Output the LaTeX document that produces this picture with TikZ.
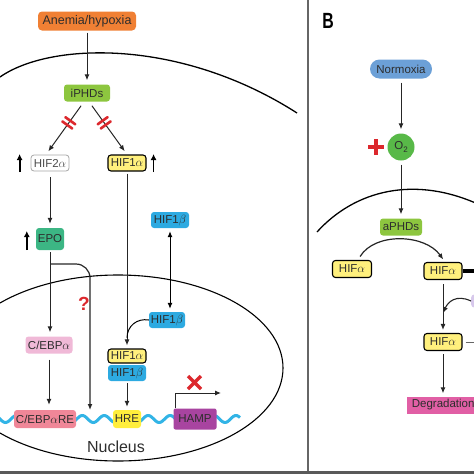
\documentclass[tikz,border=0pt]{standalone}
\usepackage{fontspec}
\setmainfont{Liberation Sans}
\usetikzlibrary{arrows.meta,calc}
\definecolor{orangeC}{RGB}{240,128,52}
\definecolor{greenL}{RGB}{141,198,63}
\definecolor{yellowL}{RGB}{255,240,125}
\definecolor{yellowH}{RGB}{255,238,60}
\definecolor{tealC}{RGB}{60,182,132}
\definecolor{blueC}{RGB}{45,170,225}
\definecolor{pinkL}{RGB}{240,185,215}
\definecolor{salmonC}{RGB}{240,135,152}
\definecolor{purpleC}{RGB}{168,68,160}
\definecolor{dnaC}{RGB}{50,180,230}
\definecolor{blueN}{RGB}{108,160,215}
\definecolor{greenO}{RGB}{88,185,72}
\definecolor{pinkD}{RGB}{225,95,165}
\definecolor{lavC}{RGB}{215,200,235}
\definecolor{redC}{RGB}{220,40,45}
\definecolor{txt}{RGB}{45,45,45}
\begin{document}
\begin{tikzpicture}[x=1pt,y=-1pt,
  font=\fontsize{11.5}{12}\selectfont,
  box/.style={rounded corners=3pt, inner sep=0pt, minimum height=16pt, text=txt},
  hifbox/.style={box, fill=yellowL, draw=black, line width=1.1pt},
  arr/.style={-{Latex[length=6pt,width=5pt]}, line width=1pt, draw=black!85},
  uparr/.style={-{Latex[length=6pt,width=6pt]}, line width=1.8pt},
  bar/.style={sloped, fill=redC, inner sep=0pt, minimum width=2.6pt, minimum height=14pt, rounded corners=0.8pt},
  memb/.style={line width=1.3pt, black}
]
\useasboundingbox (0,0) rectangle (474,474);
\clip (0,0) rectangle (474,474);

% membranes and nucleus
\draw[memb] (0,77) .. controls (50,42) and (180,38) .. (297,113);
\draw[line width=1.1pt] (118,368) ellipse [x radius=165pt, y radius=93pt];
\draw[memb] (317,232) .. controls (355,190) and (415,175) .. (480,205);

% DNA
\draw[dnaC, line width=3pt] plot[domain=-5:240, samples=240] (\x, {419+3.5*sin(\x*16.4)});

% ---------- panel A ----------
\node[box, fill=orangeC, minimum width=98pt, minimum height=19pt, rounded corners=4pt, font=\fontsize{12.5}{13}\selectfont] (anemia) at (87,21) {Anemia/hypoxia};
\node[box, fill=greenL, minimum width=46pt, minimum height=17pt] (iphds) at (87,93) {iPHDs};
\node[box, fill=white, draw=gray!70, line width=0.8pt, minimum width=38pt, text=gray!60!black] (hif2a) at (50,163) {HIF2$\alpha$};
\node[hifbox, minimum width=38pt] (hif1a) at (127,163) {HIF1$\alpha$};
\node[box, fill=tealC, minimum width=28pt, minimum height=22pt] (epo) at (50,239) {EPO};
\node[box, fill=blueC, minimum width=38pt] (hif1bT) at (170,220) {HIF1$\beta$};
\node[box, fill=blueC, minimum width=36pt] (hif1bN) at (167,320) {HIF1$\beta$};
\node[hifbox, minimum width=38pt, minimum height=14pt] (cx1) at (127,356) {HIF1$\alpha$};
\node[box, fill=blueC, minimum width=38pt, minimum height=16pt] (cx2) at (127,373) {HIF1$\beta$};
\node[box, fill=pinkL, minimum width=47pt, minimum height=17pt] (cebpa) at (49,345) {C/EBP$\alpha$};
\node[box, fill=salmonC, minimum width=62pt, minimum height=18pt] (cebpare) at (45,419) {C/EBP$\alpha$RE};
\node[box, fill=yellowH, minimum width=28pt, minimum height=18pt] (hre) at (127,419) {HRE};
\node[box, fill=purpleC, minimum width=43pt, minimum height=21pt, rounded corners=2pt] (hamp) at (195,419) {HAMP};
\node[text=txt, font=\fontsize{16}{16}\selectfont] (nuc) at (116,447) {Nucleus};
\node[text=redC, font=\fontsize{19}{19}\selectfont\bfseries] (qm) at (84,304) {?};

\coordinate (epoBr) at (50,264);
\coordinate (qEnd) at (90,410);
\coordinate (merge) at (127,338);
\coordinate (tss) at (221,393);

\draw[arr, shorten <=2pt, shorten >=4pt] (anemia) -- (iphds);
\draw[arr, shorten <=5pt, shorten >=4pt] ([xshift=-3pt]iphds.south) -- ([xshift=-4pt]hif2a.north)
   node[bar, pos=0.36] {} node[bar, pos=0.44] {};
\draw[arr, shorten <=5pt, shorten >=4pt] ([xshift=2pt]iphds.south) -- (hif1a.north)
   node[bar, pos=0.36] {} node[bar, pos=0.44] {};
\draw[uparr] ($(hif2a.west)+(-11,9)$) -- ++(0,-18);
\draw[uparr] ($(hif1a.east)+(7,9)$) -- ++(0,-18);
\draw[uparr] ($(epo.west)+(-9,11)$) -- ++(0,-19);
\draw[arr, shorten <=6pt, shorten >=4pt] (hif2a) -- (epo);
\draw[arr, shorten <=2pt, shorten >=4pt] (epo.south) -- (epo.south |- cebpa.north);
\draw[arr, line width=1.2pt, rounded corners=14pt] (epoBr) -| (qEnd);
\draw[arr, shorten <=6pt, shorten >=5pt] (cebpa) -- (cebpa |- cebpare.north);
\draw[arr, shorten <=2pt, shorten >=3pt] (hif1a) -- (cx1);
\draw[{Latex[length=6pt,width=5pt]}-{Latex[length=6pt,width=5pt]}, line width=1pt, shorten <=3pt, shorten >=3pt] (hif1bT.south) -- (hif1bT.south |- hif1bN.north);
\draw[line width=1pt] (hif1bN.west) .. controls (137,318) and (127,326) .. (merge);
\draw[arr, shorten <=2pt, shorten >=3pt] (cx2) -- (hre);
\draw[arr] ([xshift=2pt]hamp.north west) |- (tss);
\draw[redC, line width=3.3pt] (188,376) -- (201,389) (188,389) -- (201,376);

% ---------- divider ----------
\draw[line width=2pt, black!60] (308,-2) -- (308,476);
\draw[line width=3.5pt, black!65] (-2,472.5) -- (476,472.5);

% ---------- panel B ----------
\node[font=\fontsize{22}{22}\selectfont\bfseries, xscale=0.72, text=black] (B) at (328,21) {B};
\node[box, fill=blueN, minimum width=62pt, minimum height=19pt, rounded corners=9.5pt] (norm) at (401,69) {Normoxia};
\node[circle, fill=greenO, inner sep=0pt, minimum size=27pt, text=txt] (o2) at (401,147) {O\raisebox{-0.35ex}{\fontsize{8}{8}\selectfont 2}};
\node[box, fill=greenL, minimum width=42pt, minimum height=17pt] (aphds) at (401,227) {aPHDs};
\node[hifbox, minimum width=39pt, minimum height=17pt] (hifL) at (352,269) {HIF$\alpha$};
\node[hifbox, minimum width=38pt, minimum height=17pt] (hifR) at (443,271) {HIF$\alpha$};
\node[hifbox, minimum width=38pt, minimum height=17pt] (hifD) at (443,342) {HIF$\alpha$};
\node[box, fill=lavC, anchor=west, minimum width=20pt, minimum height=13pt] (lav) at (471,301) {};
\node[box, fill=pinkD, anchor=west, minimum width=72pt, minimum height=17pt, rounded corners=0pt] (degr) at (407,405) {Degradation};
\draw[redC, line width=3.3pt] (368,147) -- (384,147) (376,139) -- (376,155);

\coordinate (rBar) at (476,271);
\coordinate (rOut) at (476,342);
\coordinate (mergeR) at (443,313);

\draw[arr, shorten <=4pt, shorten >=4pt] (norm) -- (o2);
\draw[arr, shorten <=4pt, shorten >=4pt] (o2) -- (aphds);
\draw[arr, line width=1.2pt, shorten <=4pt, shorten >=3pt] ([xshift=6pt]hifL.north) .. controls (375,232) and (425,234) .. ([xshift=2pt]hifR.north);
\draw[line width=3.5pt] (hifR.east) -- (rBar);
\draw[arr, shorten <=4pt, shorten >=3pt] (hifR) -- (hifD);
\draw[arr, line width=1.1pt] (lav.west) .. controls (456,294) and (448,302) .. (mergeR);
\draw[line width=0.8pt, black!60] ([xshift=3pt]hifD.east) -- (rOut);
\draw[arr, shorten <=3pt, shorten >=3pt] (hifD) -- (hifD |- degr.north);
\end{tikzpicture}
\end{document}
